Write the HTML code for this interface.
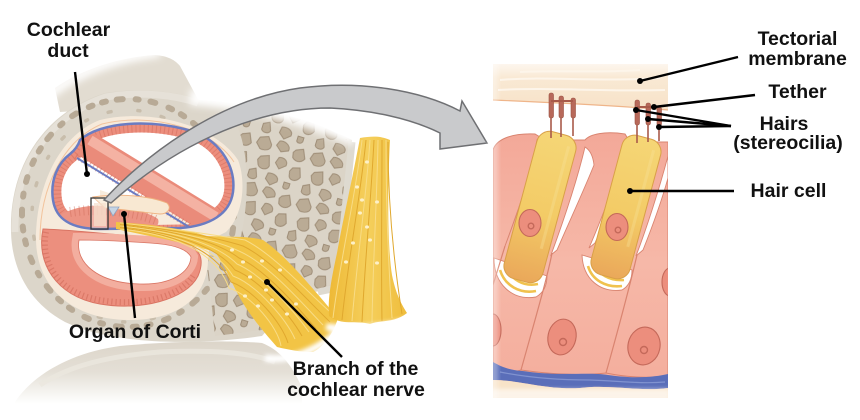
<!DOCTYPE html>
<html><head><meta charset="utf-8">
<style>
html,body{margin:0;padding:0;background:#fff;}
svg{display:block;}
text{font-family:"Liberation Sans",Arial,sans-serif;font-weight:bold;font-size:19.5px;fill:#111;}
</style></head><body>
<svg width="860" height="420" viewBox="0 0 860 420" xmlns="http://www.w3.org/2000/svg">
<defs>
  <pattern id="sp" width="56" height="48" patternUnits="userSpaceOnUse" patternTransform="rotate(17) translate(5,3)">
    <rect width="56" height="48" fill="#dbd4c7"/>
    <g fill="#baab95" stroke="#9f8e78" stroke-width="1">
      <path d="M4,4 L12,1 L17,8 C18,14 12,16 7,15 L2,10 Z"/>
      <path d="M24,2 C30,0 36,4 35,9 L28,12 L22,7 Z"/>
      <path d="M42,6 L49,3 L53,12 C50,18 44,17 41,14 L40,9 Z"/>
      <path d="M10,22 L18,19 L21,29 C20,34 13,35 10,31 L8,26 Z"/>
      <path d="M28,18 C33,16 38,19 37,24 L31,29 L26,24 Z"/>
      <path d="M44,24 L51,22 L54,31 C51,37 45,37 43,33 L42,28 Z"/>
      <path d="M3,38 L9,35 L12,43 C11,47 5,47 3,44 Z"/>
      <path d="M22,36 C28,34 34,37 33,42 L27,47 L21,42 Z"/>
      <path d="M40,40 L46,40 L46,44 C45,47 41,47 40,45 Z"/>
    </g>
  </pattern>
  <filter id="bl" x="-30%" y="-30%" width="160%" height="160%"><feGaussianBlur stdDeviation="4"/></filter>
  <filter id="bl2" x="-30%" y="-30%" width="160%" height="160%"><feGaussianBlur stdDeviation="2"/></filter>
  <linearGradient id="baseG" x1="0" y1="340" x2="0" y2="404" gradientUnits="userSpaceOnUse">
    <stop offset="0" stop-color="#dcd5c9"/><stop offset="0.5" stop-color="#e4dfd6"/><stop offset="1" stop-color="#ffffff"/>
  </linearGradient>
  <linearGradient id="nerveV" x1="0" y1="0" x2="1" y2="0">
    <stop offset="0" stop-color="#eeb936"/><stop offset="0.5" stop-color="#f5cf5c"/><stop offset="1" stop-color="#efbd3c"/>
  </linearGradient>
  <linearGradient id="yel" x1="0" y1="0" x2="0" y2="1">
    <stop offset="0" stop-color="#f5d676"/><stop offset="0.55" stop-color="#f3cb66"/><stop offset="1" stop-color="#eaa85a"/>
  </linearGradient>
  <linearGradient id="pinkG" x1="0" y1="130" x2="0" y2="395" gradientUnits="userSpaceOnUse">
    <stop offset="0" stop-color="#f3a898"/><stop offset="0.5" stop-color="#f6b8a8"/><stop offset="1" stop-color="#f4ad9c"/>
  </linearGradient>
  <linearGradient id="memG" x1="0" y1="64" x2="0" y2="110" gradientUnits="userSpaceOnUse">
    <stop offset="0" stop-color="#fdf6ee"/><stop offset="0.3" stop-color="#f9e9d4"/><stop offset="1" stop-color="#f7e2c8"/>
  </linearGradient>
  <clipPath id="regA"><path d="M 80,140 C 100,122 150,118 195,132 C 222,143 236,168 233,192 C 230,214 210,226 180,228 L 100,229 C 72,229 56,220 53,200 C 50,180 58,163 70,154 C 75,150 78,146 80,140 Z"/></clipPath>
  <clipPath id="panel"><rect x="493" y="62" width="175" height="336"/></clipPath>
</defs>

<!-- base bone at bottom -->
<path d="M 15,402 C 35,372 75,352 120,346 C 170,341 230,340 262,343 C 280,350 292,365 302,388 L 302,404 L 15,404 Z" fill="url(#baseG)"/>
<path d="M 40,385 C 70,365 110,356 160,352 C 210,350 250,352 275,362" fill="none" stroke="#ebe7df" stroke-width="5" opacity="0.8"/>

<!-- top cap -->
<path d="M 55,88 C 80,70 120,57 155,55 C 168,56 175,60 180,66 L 200,103 L 60,112 Z" fill="#e2dcd1"/>
<path d="M 45,98 C 70,76 110,58 160,52" fill="none" stroke="#fff" stroke-width="10" filter="url(#bl)"/>

<!-- main bone -->
<path d="M 11,232 C 9,165 45,112 105,93 C 140,87 180,92 200,100 C 245,102 305,116 352,140 L 345,200 L 336,290 L 300,293 L 262,336 C 200,345 115,346 65,322 C 28,302 12,268 11,232 Z" fill="#dcd6ca"/>
<path d="M 15,232 C 13,168 48,116 106,97 C 140,91 175,95 198,103" fill="none" stroke="#e6e1d8" stroke-width="7"/>
<ellipse cx="128" cy="213" rx="106" ry="114" fill="none" stroke="#b8aa96" stroke-width="6" stroke-linecap="round" stroke-dasharray="4 11 6 13 3 12 5 14 4 10"/>
<ellipse cx="128" cy="216" rx="96" ry="106" fill="none" stroke="#c3b6a3" stroke-width="3.5" stroke-linecap="round" stroke-dasharray="2 22 3 27" opacity="0.8"/>

<!-- spongy bone -->
<path d="M 228,112 C 270,108 320,120 350,142 L 345,200 L 336,284 L 318,290 L 262,250 L 240,240 C 246,215 248,190 246,165 C 244,140 238,124 228,112 Z" fill="url(#sp)"/>
<path d="M 205,255 L 232,258 C 242,280 252,305 262,330 L 215,336 C 212,310 210,285 205,255 Z" fill="url(#sp)"/>
<path d="M 352,142 L 346,200 L 337,288 L 318,292" fill="none" stroke="#dedad0" stroke-width="7"/>
<path d="M 190,97 C 240,100 300,114 355,138" fill="none" stroke="#fff" stroke-width="16" filter="url(#bl)"/>

<!-- cavity -->
<path d="M 36,240 C 36,185 60,135 100,120 C 150,108 215,125 238,160 C 246,180 244,215 226,232 L 210,240 L 208,262 C 206,300 175,320 130,320 C 75,320 37,290 36,240 Z" fill="#f6eadb"/>
<path d="M 40,240 C 40,188 63,140 102,124 C 150,112 212,128 234,162" fill="none" stroke="#f2c39c" stroke-width="1"/>

<!-- lower turn tube -->
<path d="M 43,229 C 36,262 55,296 100,304 C 140,311 186,300 198,276 C 204,262 201,252 193,248 C 170,240 150,238 130,236 C 100,233 70,230 43,229 Z" fill="#ec8f7e" stroke="#d97463" stroke-width="1"/>
<path d="M 79,240 C 75,263 98,283 140,284 C 172,285 190,272 191,257 C 186,247 168,244 150,243 C 120,241 95,240 79,240 Z" fill="none" stroke="#f3ae9f" stroke-width="14"/>
<path d="M 46,232 C 40,262 58,293 100,300 C 140,307 182,297 194,274" fill="none" stroke="#d06b5a" stroke-width="6" stroke-dasharray="1.2 3" opacity="0.6"/>
<path d="M 79,240 C 75,263 98,283 140,284 C 172,285 190,272 191,257 C 186,247 168,244 150,243 C 120,241 95,240 79,240 Z" fill="#ffffff" stroke="#d97463" stroke-width="0.8"/>

<!-- upper region -->
<path d="M 80,140 C 100,122 150,118 195,132 C 222,143 236,168 233,192 C 230,214 210,226 180,228 L 100,229 C 72,229 56,220 53,200 C 50,180 58,163 70,154 C 75,150 78,146 80,140 Z" fill="#fff"/>
<g clip-path="url(#regA)">
  <path d="M 80,140 C 100,122 150,118 195,132 C 222,143 236,168 233,192 C 230,214 210,226 180,228 L 100,229 C 72,229 56,220 53,200 C 50,180 58,163 70,154 C 75,150 78,146 80,140 Z" fill="none" stroke="#ec8e7d" stroke-width="18"/>
  <path d="M 80,140 C 100,122 150,118 195,132 C 222,143 236,168 233,192 C 230,214 210,226 180,228 L 100,229 C 72,229 56,220 53,200 C 50,180 58,163 70,154 C 75,150 78,146 80,140 Z" fill="none" stroke="#cf6a59" stroke-width="18" stroke-dasharray="1 3.2" opacity="0.5"/>
  <path d="M 100,190 C 130,200 165,210 205,224 L 100,226 Z" fill="#f7ecdd"/>
  <path d="M 84,143 C 125,168 170,196 214,223" fill="none" stroke="#ea8b7a" stroke-width="27"/>
  <path d="M 90,140 C 128,163 172,190 216,217" fill="none" stroke="#f4b2a3" stroke-width="10"/>
  <path d="M 76,156 C 117,181 162,209 206,236" fill="none" stroke="#cf6a59" stroke-width="6" stroke-dasharray="1 3" opacity="0.55"/>
  <path d="M 77,158 C 118,183 163,211 207,238" fill="none" stroke="#6b7cc2" stroke-width="2"/>
  <path d="M 58,216 C 75,206 95,204 110,207 C 130,208 148,212 158,219 C 160,225 155,229 150,229 L 58,229 Z" fill="#ec9484"/>
  <path d="M 70,212 C 95,208 130,210 156,220" fill="none" stroke="#cf6a59" stroke-width="10" stroke-dasharray="1 3.5" opacity="0.45"/>
</g>
<path d="M 80,140 C 100,122 150,118 195,132 C 222,143 236,168 233,192 C 230,214 210,226 180,228 L 100,229 C 72,229 56,220 53,200 C 50,180 58,163 70,154 C 75,150 78,146 80,140 Z" fill="none" stroke="#6b7cc2" stroke-width="2.5"/>
<path d="M 93,197 C 120,193 150,196 167,203 C 172,208 168,214 160,214 C 140,212 120,209 105,208 Z" fill="#f8e8d2" stroke="#efb07e" stroke-width="0.9"/>
<path d="M 108,207 L 119,207 L 113,216 Z" fill="#c6d5e4" stroke="#8fa3c2" stroke-width="0.8"/>
<path d="M 94,203 L 106,203 L 106,226 L 94,226 Z" fill="#f1d3b8" opacity="0.7"/>

<!-- branch nerve -->
<path d="M 116,222 C 150,224 185,229 207,236 C 230,237 250,236 263,240 C 285,255 310,285 338,318 C 333,335 322,348 313,352 C 300,352 290,350 277,347 C 262,330 250,315 243,303 C 232,285 225,265 215,252 C 190,244 150,236 116,229 Z" fill="#f2c445"/>
<g fill="none" stroke-width="1">
  <path d="M 120,223 C 170,228 215,235 245,240 C 275,255 310,295 337,318" stroke="#f8dc86"/>
  <path d="M 120,224 C 170,229 215,237 243,246 C 272,260 306,299 330,322" stroke="#e0a82e"/>
  <path d="M 120,225 C 170,230 215,239 241,252 C 269,265 302,303 323,325" stroke="#f8dc86"/>
  <path d="M 120,225 C 170,230 215,240 239,258 C 266,270 298,307 316,329" stroke="#e0a82e"/>
  <path d="M 120,226 C 170,231 215,242 237,264 C 263,275 294,311 309,332" stroke="#f8dc86"/>
  <path d="M 120,227 C 170,232 215,244 235,270 C 260,280 290,315 302,336" stroke="#e0a82e"/>
  <path d="M 120,228 C 170,233 215,246 233,276 C 257,285 286,319 295,339" stroke="#f8dc86"/>
  <path d="M 120,228 C 170,233 215,248 231,282 C 254,290 282,323 288,343" stroke="#e0a82e"/>
  <path d="M 120,229 C 170,234 215,249 229,288 C 251,295 278,327 281,346" stroke="#f8dc86"/>
</g>
<g fill="#fdf0c8">
  <ellipse cx="243" cy="262" rx="2" ry="1.6"/><ellipse cx="262" cy="261" rx="2" ry="1.6"/>
  <ellipse cx="280" cy="270" rx="2" ry="1.6"/><ellipse cx="250" cy="277" rx="2" ry="1.6"/>
  <ellipse cx="266" cy="290" rx="2" ry="1.6"/><ellipse cx="245" cy="296" rx="2" ry="1.6"/>
  <ellipse cx="272" cy="300" rx="2" ry="1.6"/><ellipse cx="287" cy="314" rx="2" ry="1.6"/>
  <ellipse cx="258" cy="306" rx="2" ry="1.6"/><ellipse cx="296" cy="304" rx="2" ry="1.6"/>
  <ellipse cx="232" cy="250" rx="2" ry="1.6"/>
</g>

<!-- vertical nerve -->
<path d="M 360,138 C 372,136 382,136 390,140 C 387,200 388,250 392,275 C 396,295 402,305 407,313 C 395,323 380,320 370,324 C 355,320 342,326 329,316 C 328,300 330,285 337,253 C 343,220 350,190 360,138 Z" fill="url(#nerveV)"/>
<g fill="none" stroke-width="1">
  <path d="M 362,140 C 355,200 340,260 333,318" stroke="#f8dc86"/>
  <path d="M 366,140 C 360,200 348,260 342,320" stroke="#e0a82e"/>
  <path d="M 370,140 C 366,200 357,260 352,321" stroke="#f8dc86"/>
  <path d="M 374,140 C 371,200 365,260 362,322" stroke="#e0a82e"/>
  <path d="M 378,140 C 377,200 373,260 372,322" stroke="#f8dc86"/>
  <path d="M 382,140 C 382,200 381,260 382,321" stroke="#e0a82e"/>
  <path d="M 386,140 C 386,200 388,260 392,318" stroke="#f8dc86"/>
  <path d="M 388,142 C 388,210 395,270 402,314" stroke="#e0a82e"/>
</g>
<g fill="#fdf0c8">
  <ellipse cx="367" cy="162" rx="2" ry="1.6"/><ellipse cx="357" cy="187" rx="2" ry="1.6"/>
  <ellipse cx="362" cy="200" rx="2" ry="1.6"/><ellipse cx="377" cy="202" rx="2" ry="1.6"/>
  <ellipse cx="360" cy="213" rx="2" ry="1.6"/><ellipse cx="367" cy="227" rx="2" ry="1.6"/>
  <ellipse cx="353" cy="243" rx="2" ry="1.6"/><ellipse cx="370" cy="240" rx="2" ry="1.6"/>
  <ellipse cx="346" cy="262" rx="2" ry="1.6"/><ellipse cx="377" cy="263" rx="2" ry="1.6"/>
</g>
<path d="M 352,136 L 396,136" fill="none" stroke="#fff" stroke-width="9" filter="url(#bl2)"/>
<path d="M 265,358 C 290,362 320,350 344,326 M 326,327 C 360,331 385,327 412,320" fill="none" stroke="#fff" stroke-width="7" filter="url(#bl2)"/>

<!-- box -->
<rect x="91" y="198" width="17" height="31" fill="#fff" fill-opacity="0.3" stroke="#333" stroke-width="1.3"/>

<!-- arrow -->
<path d="M 104,200 C 140,160 215,100 300,88 C 360,80 420,90 460,111 L 462,101 L 487,143 L 440,149 L 440,133 C 410,118 370,110 330,108 C 250,108 170,150 111,203 Z" fill="#c9cacc" stroke="#6f7073" stroke-width="1.5"/>

<!-- left pointers -->
<g stroke="#000" stroke-width="2.4" fill="none">
  <line x1="75" y1="72" x2="87" y2="174"/>
  <line x1="124" y1="214" x2="135" y2="318"/>
  <line x1="267" y1="282" x2="342" y2="357"/>
</g>
<g fill="#000">
  <circle cx="87" cy="174" r="3"/><circle cx="124" cy="214" r="3"/><circle cx="267" cy="282" r="3"/>
</g>

<!-- right panel -->
<g clip-path="url(#panel)">
  <path d="M 493,64 L 668,64 L 668,110 C 620,106 540,102 493,100 Z" fill="url(#memG)"/>
  <path d="M 500,80 C 540,76 600,82 660,78 M 498,90 C 550,87 610,92 665,90 M 520,72 C 560,70 600,73 640,70" fill="none" stroke="#fdf5ea" stroke-width="2"/>
  <path d="M 493,100 C 540,102 620,106 668,110" fill="none" stroke="#efb58a" stroke-width="1.2"/>

  <path d="M 493,150 C 496,140 510,133 535,134 L 545,140 L 585,140 C 590,134 605,131 625,134 L 630,142 L 668,142 L 668,398 L 493,398 Z" fill="url(#pinkG)" stroke="#d98470" stroke-width="1"/>
  <g fill="#fff" stroke="#d98470" stroke-width="0.9">
    <path d="M 537,140 C 531,172 518,212 505,246 C 514,222 528,180 542,145 Z"/>
    <path d="M 585,147 C 576,185 562,225 551,255 L 557,250 C 570,220 584,190 594,165 C 593,156 590,150 585,147 Z"/>
    <path d="M 623,150 C 614,188 601,220 589,248 L 595,243 C 608,215 620,185 629,160 Z"/>
    <path d="M 668,156 C 659,190 646,230 636,256 L 643,250 C 653,225 663,196 668,178 Z"/>
  </g>
  <path d="M 494,258 C 494,284 512,301 536,297 C 543,293 547,286 547,276 Z" fill="#fff" stroke="#d98470" stroke-width="0.9"/>
  <path d="M 582,255 C 583,279 600,293 622,290 C 629,286 632,279 632,270 Z" fill="#fff" stroke="#d98470" stroke-width="0.9"/>
  <g fill="none" stroke="#f0c24e" stroke-width="2.6">
    <path d="M 500,270 C 505,286 520,294 536,291"/>
    <path d="M 506,266 C 511,280 524,287 538,284"/>
    <path d="M 512,262 C 517,274 528,280 540,278"/>
    <path d="M 588,266 C 592,280 606,288 622,286"/>
    <path d="M 594,262 C 598,275 610,281 624,280"/>
    <path d="M 600,258 C 604,269 614,274 626,274"/>
  </g>
  <g fill="none" stroke="#d98470" stroke-width="1.2">
    <path d="M 552,253 C 548,275 535,320 521,370"/>
    <path d="M 637,255 C 630,285 618,330 606,373"/>
    <path d="M 505,246 C 500,262 496,275 493,285"/>
  </g>
  <path d="M 493,368 C 505,374 515,372 521,370 C 550,374 580,376 606,373 C 630,378 650,378 668,376" fill="none" stroke="#d98470" stroke-width="1"/>

  <g transform="translate(540,207) rotate(15)">
    <rect x="-20" y="-76" width="40" height="152" rx="13" fill="url(#yel)" stroke="#d9a048" stroke-width="1"/>
    <path d="M 12,-66 L 12,40" stroke="#f8e39a" stroke-width="3" opacity="0.35"/>
  </g>
  <g transform="translate(626,207) rotate(15)">
    <rect x="-20" y="-72" width="40" height="144" rx="13" fill="url(#yel)" stroke="#d9a048" stroke-width="1"/>
    <path d="M 12,-62 L 12,38" stroke="#f8e39a" stroke-width="3" opacity="0.35"/>
  </g>
  <g fill="#ec8e7d" stroke="#c4695a" stroke-width="1.1">
    <ellipse cx="530" cy="223" rx="11" ry="13.5"/>
    <ellipse cx="617" cy="227" rx="11" ry="13.5"/>
    <ellipse cx="562" cy="337" rx="14" ry="18" transform="rotate(12 562 337)"/>
    <ellipse cx="644" cy="346" rx="16" ry="19" transform="rotate(12 644 346)"/>
    <ellipse cx="493" cy="330" rx="8" ry="16"/>
    <ellipse cx="670" cy="282" rx="8" ry="14"/>
  </g>
  <g fill="none" stroke="#c4695a" stroke-width="1.4">
    <circle cx="531" cy="226" r="2.8"/><circle cx="618" cy="230" r="2.8"/>
    <circle cx="563" cy="342" r="3.5"/><circle cx="644" cy="350" r="3.5"/>
  </g>
  <path d="M 493,362 C 510,372 520,370 530,372 C 560,376 590,372 608,375 C 635,379 655,377 668,374 L 668,388 C 640,392 610,384 580,388 C 545,390 520,380 493,380 Z" fill="#5a6eb9"/>
  <path d="M 500,372 C 530,378 560,380 590,380 C 620,381 640,384 665,382" fill="none" stroke="#8193d0" stroke-width="1.2"/>
  <path d="M 493,380 C 520,380 545,390 580,388 C 610,384 640,392 668,388 L 668,398 L 493,398 Z" fill="#f8e3c8"/>
  <rect x="490" y="389" width="180" height="12" fill="#fff" opacity="0.6" filter="url(#bl2)"/>

  <g fill="#b8695a" stroke="#9a5242" stroke-width="0.6">
    <rect x="549" y="93" width="4.5" height="25" rx="2"/>
    <rect x="559" y="96" width="4.5" height="22" rx="2"/>
    <rect x="571" y="98" width="4.5" height="20" rx="2"/>
    <rect x="635" y="100" width="4.5" height="25" rx="2"/>
    <rect x="646" y="103" width="4.5" height="22" rx="2"/>
    <rect x="657" y="107" width="4.5" height="19" rx="2"/>
  </g>
  <g stroke="#a85a4a" stroke-width="1.6">
    <line x1="551" y1="118" x2="551" y2="138"/><line x1="561" y1="118" x2="561" y2="137"/><line x1="573" y1="118" x2="573" y2="136"/>
    <line x1="637" y1="125" x2="637" y2="143"/><line x1="648" y1="125" x2="648" y2="142"/><line x1="659" y1="126" x2="659" y2="141"/>
    <line x1="551" y1="101" x2="573" y2="101" stroke-width="2"/>
    <line x1="637" y1="107" x2="659" y2="107" stroke-width="2"/>
  </g>
</g>
<rect x="488" y="62" width="10" height="340" fill="#fff" opacity="0.35" filter="url(#bl2)"/>

<!-- right pointers -->
<g stroke="#000" stroke-width="2.4" fill="none">
  <line x1="640" y1="81" x2="738" y2="57"/>
  <line x1="654" y1="107" x2="755" y2="95"/>
  <line x1="636" y1="110" x2="731" y2="126"/>
  <line x1="648" y1="119" x2="731" y2="126"/>
  <line x1="659" y1="127" x2="731" y2="126"/>
  <line x1="630" y1="191" x2="734" y2="191"/>
</g>
<g fill="#000">
  <circle cx="640" cy="81" r="3"/><circle cx="654" cy="107" r="3"/>
  <circle cx="636" cy="110" r="3"/><circle cx="648" cy="119" r="3"/><circle cx="659" cy="127" r="3"/>
  <circle cx="630" cy="191" r="3"/>
</g>

<!-- labels -->
<text x="68.5" y="36" text-anchor="middle">Cochlear</text>
<text x="68" y="57" text-anchor="middle">duct</text>
<text x="135" y="338" text-anchor="middle">Organ of Corti</text>
<text x="355.5" y="375" text-anchor="middle">Branch of the</text>
<text x="356" y="396" text-anchor="middle">cochlear nerve</text>
<text x="797.5" y="45" text-anchor="middle">Tectorial</text>
<text x="797.5" y="65" text-anchor="middle">membrane</text>
<text x="797.5" y="98" text-anchor="middle">Tether</text>
<text x="784" y="130" text-anchor="middle">Hairs</text>
<text x="788" y="149" text-anchor="middle">(stereocilia)</text>
<text x="788.5" y="197" text-anchor="middle">Hair cell</text>
</svg>
</body></html>
